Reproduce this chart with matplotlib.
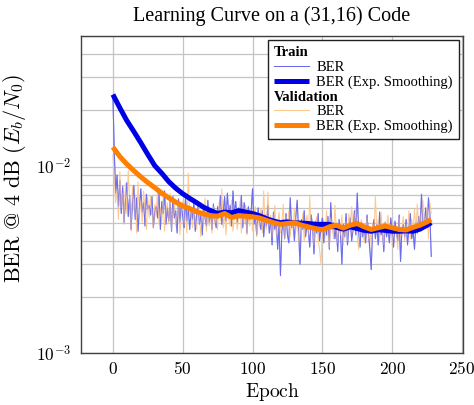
import numpy as np
import matplotlib
matplotlib.use('Agg')
import matplotlib.pyplot as plt
from matplotlib.ticker import FixedLocator, LogLocator, NullFormatter, FixedFormatter
from matplotlib.lines import Line2D

# BER values, in units of 1e-3, one per epoch (0..228)
train_ber = [
    24.0, 12.0, 7.2, 9.0, 6.1, 8.4, 5.6, 7.8, 5.0, 6.6,
    8.2, 5.4, 7.0, 4.6, 6.3, 7.9, 5.2, 6.8, 4.5, 6.0,
    7.6, 5.7, 6.4, 4.8, 7.1, 5.9, 6.2, 5.5, 6.9, 4.7,
    5.8, 6.1, 5.3, 7.3, 4.6, 6.5, 5.6, 7.4, 4.9, 6.0,
    5.1, 6.6, 4.5, 6.9, 5.3, 5.8, 4.4, 6.7, 5.0, 6.3,
    5.4, 4.7, 6.8, 5.1, 6.0, 4.6, 5.9, 5.2, 6.4, 4.5,
    5.6, 6.2, 4.9, 5.5, 4.3, 6.0, 5.3, 4.8, 6.6, 5.0,
    5.8, 4.6, 6.3, 5.2, 4.7, 6.1, 5.5, 7.0, 4.9, 5.6,
    6.9, 5.1, 7.2, 5.4, 6.2, 4.8, 7.4, 5.5, 6.5, 5.0,
    6.0, 5.3, 7.0, 4.7, 6.4, 5.8, 4.4, 6.1, 5.2, 5.7,
    7.6, 4.9, 5.4, 4.3, 6.0, 5.1, 4.6, 5.8, 4.2, 5.5,
    4.8, 6.2, 4.4, 5.3, 3.8, 5.7, 4.6, 5.0, 3.6, 4.9,
    2.6, 4.5, 5.2, 4.1, 5.6, 4.3, 3.9, 6.8, 4.7, 5.1,
    4.0, 5.4, 6.6, 4.4, 3.0, 5.2, 4.6, 5.8, 4.2, 5.0,
    4.5, 3.7, 5.5, 4.8, 3.4, 5.1, 4.4, 5.6, 4.0, 4.7,
    5.3, 3.9, 4.9, 4.3, 5.4, 3.6, 6.4, 4.6, 5.0, 4.1,
    4.8, 3.5, 5.2, 4.4, 3.0, 4.9, 4.2, 5.6, 3.8, 4.7,
    5.3, 4.0, 4.6, 5.8, 4.3, 7.2, 4.5, 3.7, 5.0, 4.2,
    4.8, 3.9, 5.5, 4.4, 3.6, 2.8, 4.7, 5.2, 4.1, 4.9,
    3.8, 5.7, 4.3, 4.6, 3.5, 5.0, 4.2, 4.8, 3.9, 5.3,
    4.4, 3.7, 5.1, 4.5, 4.0, 5.5, 3.1, 4.6, 4.9, 4.2,
    5.2, 3.8, 4.7, 5.6, 4.1, 4.5, 3.6, 5.0, 4.4, 5.4,
    4.6, 7.1, 5.0, 4.8, 6.0, 4.7, 6.8, 5.5, 3.3,
]

val_ber = [
    11.5, 8.8, 6.4, 7.5, 5.2, 9.4, 6.0, 7.2, 4.9, 8.1,
    5.6, 9.5, 6.5, 4.5, 7.8, 5.8, 6.9, 4.4, 8.3, 5.5,
    6.6, 5.0, 7.4, 5.9, 4.6, 6.8, 5.3, 7.0, 5.6, 4.7,
    6.3, 5.4, 7.6, 4.9, 6.0, 5.1, 6.7, 4.5, 5.8, 6.4,
    5.0, 7.2, 4.6, 5.9, 6.6, 4.8, 5.5, 6.2, 4.3, 5.7,
    6.5, 4.9, 5.6, 4.4, 9.2, 5.3, 6.0, 4.7, 5.8, 5.1,
    4.6, 6.3, 5.4, 4.2, 5.9, 5.0, 6.8, 4.5, 5.5, 4.8,
    5.7, 4.4, 6.1, 4.9, 5.3, 4.6, 6.4, 5.1, 7.6, 4.7,
    5.6, 4.3, 6.2, 5.2, 4.8, 6.6, 4.5, 5.4, 6.0, 4.6,
    5.3, 6.5, 4.4, 5.7, 5.0, 6.2, 4.3, 5.5, 4.8, 5.9,
    4.5, 5.6, 6.1, 4.2, 5.3, 4.7, 6.0, 4.4, 7.4, 5.0,
    4.6, 7.3, 4.8, 5.5, 4.2, 5.1, 6.2, 4.3, 4.9, 5.7,
    4.4, 5.0, 6.3, 4.1, 5.4, 4.7, 5.8, 4.2, 5.2, 4.6,
    6.0, 4.5, 5.3, 3.9, 5.1, 4.4, 5.6, 4.0, 4.8, 5.5,
    4.3, 6.9, 4.6, 5.0, 3.8, 4.7, 5.4, 4.1, 3.6, 3.0,
    4.5, 5.2, 4.2, 5.8, 4.4, 3.7, 5.3, 4.8, 4.1, 6.2,
    4.6, 3.9, 4.9, 4.3, 5.5, 3.8, 4.5, 5.1, 4.0, 5.6,
    4.7, 6.1, 4.4, 5.4, 5.9, 4.2, 3.6, 4.8, 5.2, 4.5,
    3.9, 4.6, 5.3, 4.1, 4.8, 3.7, 5.0, 4.4, 6.9, 4.6,
    5.2, 4.0, 5.7, 4.5, 3.8, 5.1, 4.7, 5.5, 4.3, 4.9,
    3.8, 5.0, 4.4, 4.8, 3.6, 5.3, 4.2, 4.6, 5.4, 4.0,
    4.9, 4.4, 5.8, 4.1, 5.2, 4.6, 5.9, 4.5, 6.3, 4.8,
    5.5, 4.7, 6.6, 5.2, 4.9, 6.0, 4.1, 6.4, 5.6,
]

# exponentially smoothed curves, read every 5 epochs (units of 1e-3)
smooth_epochs = [0, 5, 10, 15, 20, 25, 30, 35, 40, 45, 50, 55, 60, 65, 70, 75,
                 80, 85, 90, 95, 100, 105, 110, 115, 120, 125, 130, 135, 140,
                 145, 150, 155, 160, 165, 170, 175, 180, 185, 190, 195, 200,
                 205, 210, 215, 220, 225, 228]
train_smooth = [24.3, 20.6, 17.6, 15.4, 13.4, 11.6, 10.1, 9.2, 8.3, 7.65, 7.15,
                6.75, 6.4, 6.05, 5.8, 5.6, 5.7, 5.65, 5.8, 5.7, 5.6, 5.45, 5.25,
                5.1, 5.0, 5.05, 5.0, 4.97, 4.95, 4.9, 4.9, 4.9, 4.72, 4.62, 4.75,
                4.65, 4.55, 4.5, 4.58, 4.55, 4.5, 4.5, 4.52, 4.5, 4.62, 4.85, 5.0]
val_smooth = [12.7, 11.3, 10.3, 9.5, 8.8, 8.2, 7.7, 7.2, 6.8, 6.45, 6.15, 5.95,
              5.72, 5.58, 5.45, 5.42, 5.6, 5.33, 5.45, 5.42, 5.38, 5.3, 5.15,
              5.0, 4.9, 4.95, 5.0, 4.85, 4.75, 4.65, 4.57, 4.75, 4.85, 4.68,
              4.85, 4.95, 4.75, 4.6, 4.7, 4.8, 4.7, 4.6, 4.57, 4.72, 4.85, 5.05, 5.2]

x_ticks = [0, 50, 100, 150, 200, 250]

epochs = np.arange(len(train_ber))
scale = 1e-3

plt.rcParams['mathtext.fontset'] = 'cm'
plt.rcParams['axes.unicode_minus'] = False

blue = '#0000e6'
blue_light = '#6b6bf0'
orange = '#ff8000'
orange_light = '#fcc98f'

fig = plt.figure(figsize=(4.74, 4.05), dpi=100)
ax = fig.add_axes([0.171, 0.128, 0.806, 0.783])

l1, = ax.plot(epochs, np.array(train_ber) * scale, color=blue_light, lw=0.75)
l3, = ax.plot(epochs, np.array(val_ber) * scale, color=orange_light, lw=0.75)
# blue raw again on top, faded, so both noisy curves show
ax.plot(epochs, np.array(train_ber) * scale, color=blue_light, lw=0.75, alpha=0.5)
l2, = ax.plot(smooth_epochs, np.array(train_smooth) * scale, color=blue, lw=3.6,
              solid_capstyle='butt')
l4, = ax.plot(smooth_epochs, np.array(val_smooth) * scale, color=orange, lw=3.6,
              solid_capstyle='butt')

ax.set_yscale('log')
ax.set_ylim(1e-3, 5e-2)
ax.set_xlim(-22.8, 250.8)

ax.xaxis.set_major_locator(FixedLocator(x_ticks))
ax.xaxis.set_major_formatter(FixedFormatter(['$%d$' % t for t in x_ticks]))
ax.yaxis.set_major_locator(FixedLocator([1e-3, 1e-2]))
ax.yaxis.set_major_formatter(FixedFormatter([r'$10^{-3}$', r'$10^{-2}$']))
ax.yaxis.set_minor_locator(LogLocator(base=10, subs=np.arange(2, 10)))
ax.yaxis.set_minor_formatter(NullFormatter())

ax.grid(True, which='major', color='#c4c4c4', lw=0.9)
ax.grid(True, which='minor', axis='y', color='#c4c4c4', lw=0.9)
ax.set_axisbelow(True)
ax.tick_params(which='both', direction='in', length=0, labelsize=12.5)
ax.tick_params(axis='x', pad=5)
ax.tick_params(axis='y', pad=7)
for s in ax.spines.values():
    s.set_color('#404040')
    s.set_linewidth(1.0)

ax.set_xlabel('$\\mathrm{Epoch}$', fontsize=14, labelpad=2)
ax.set_ylabel(r'$\mathrm{BER}\ @\ 4\ \mathrm{dB}\ (E_b/N_0)$', fontsize=16)
ax.yaxis.set_label_coords(-0.138, 0.55)
ax.set_title('Learning Curve on a (31,16) Code', fontsize=14.5,
             family='Liberation Serif', pad=11)

blank = Line2D([], [], color='none')
handles = [blank, l1, l2, blank, l3, l4]
labels = ['Train', 'BER', 'BER (Exp. Smoothing)', 'Validation', 'BER', 'BER (Exp. Smoothing)']
leg = ax.legend(handles, labels, loc='upper right', fancybox=False, framealpha=1,
                edgecolor='#202020', prop={'family': 'Liberation Serif', 'size': 10.5},
                handlelength=2.4, handletextpad=0.5, labelspacing=0.1,
                borderpad=0.4, borderaxespad=0.3)
leg.get_frame().set_linewidth(1.0)
for i in (0, 3):
    leg.get_texts()[i].set_fontweight('bold')
# headers start at the left edge, without room for a line sample
column = leg._legend_handle_box.get_children()[0]
for i in (0, 3):
    row = column.get_children()[i]
    row.get_children()[0].width = 0
    row.sep = 0

fig.savefig('out.png', dpi=100)
